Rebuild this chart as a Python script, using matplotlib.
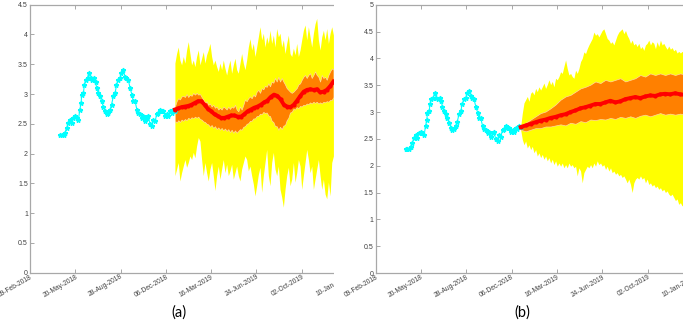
import matplotlib
matplotlib.use('Agg')
import matplotlib.pyplot as plt
import numpy as np
from matplotlib.patches import Rectangle

# x values are days counted from 09-Feb-2018 (the first tick)
tick_labels = ['09-Feb-2018', '20-May-2018', '28-Aug-2018', '06-Dec-2018',
               '16-Mar-2019', '24-Jun-2019', '02-Oct-2019', '10-Jan-2020']

# observed series (cyan), same in both panels
hist_day = [66, 70, 74, 77, 81, 85, 88, 92, 96, 99, 103, 107, 110, 113, 114, 118,
            120, 123, 127, 130, 134, 138, 141, 145, 147, 151, 155, 158, 162, 166,
            169, 173, 177, 180, 184, 188, 191, 195, 199, 202, 206, 210, 213, 217,
            221, 225, 228, 232, 236, 239, 243, 247, 250, 254, 258, 261, 265, 269,
            272, 276, 280, 283, 287, 291, 294, 298, 302, 305, 309, 313, 316, 320]
hist_val = [2.32, 2.32, 2.32, 2.35, 2.43, 2.52, 2.57, 2.52, 2.60, 2.63, 2.60, 2.57,
            2.74, 2.85, 2.99, 3.02, 3.15, 3.24, 3.27, 3.35, 3.27, 3.24, 3.27, 3.21,
            3.10, 3.02, 2.96, 2.88, 2.79, 2.71, 2.66, 2.68, 2.74, 2.82, 2.96, 3.02,
            3.15, 3.24, 3.27, 3.35, 3.40, 3.29, 3.27, 3.24, 3.10, 2.99, 2.88, 2.88,
            2.74, 2.68, 2.66, 2.60, 2.63, 2.54, 2.60, 2.63, 2.49, 2.46, 2.57, 2.54,
            2.66, 2.68, 2.74, 2.71, 2.71, 2.63, 2.66, 2.63, 2.71, 2.68, 2.74, 2.72]

# ---- panel (a) forecast ----
a_band_day = np.linspace(320, 670, 96)
a_yel_hi = [3.52, 3.68, 3.79, 3.57, 3.49, 3.63, 3.52, 3.74, 3.88, 3.68,
            3.49, 3.57, 3.46, 3.63, 3.74, 3.49, 3.60, 3.71, 3.52, 3.66,
            3.74, 3.85, 3.63, 3.49, 3.57, 3.46, 3.38, 3.52, 3.41, 3.57,
            3.43, 3.32, 3.46, 3.57, 3.35, 3.49, 3.60, 3.41, 3.35, 3.52,
            3.68, 3.52, 3.41, 3.57, 3.79, 3.93, 3.74, 3.85, 3.63, 3.79,
            3.96, 4.13, 3.91, 4.02, 3.79, 3.96, 3.85, 4.07, 3.85, 3.99,
            3.79, 4.10, 3.96, 4.02, 3.79, 3.91, 3.68, 3.85, 3.99, 3.68,
            3.63, 3.77, 3.66, 3.85, 3.63, 3.74, 3.91, 4.07, 4.16, 3.91,
            4.13, 3.96, 3.79, 4.02, 4.18, 4.27, 3.91, 3.74, 3.96, 4.07,
            3.91, 4.10, 3.85, 4.02, 4.13, 3.99]
a_yel_lo = [1.63, 1.74, 1.85, 1.54, 1.68, 1.79, 1.90, 1.77, 1.85, 1.96,
            1.90, 2.02, 1.93, 2.13, 2.27, 2.21, 1.90, 1.63, 1.85, 1.68,
            1.54, 1.74, 1.85, 1.63, 1.38, 1.63, 1.79, 1.57, 1.74, 1.90,
            1.68, 1.82, 1.63, 1.71, 1.82, 1.57, 1.68, 1.79, 1.63, 1.54,
            1.74, 1.85, 1.96, 1.90, 1.71, 1.79, 1.63, 1.49, 1.29, 1.46,
            1.65, 1.77, 1.35, 1.63, 1.85, 2.07, 1.63, 1.46, 1.85, 2.02,
            1.74, 1.63, 1.79, 1.40, 1.27, 1.10, 1.40, 1.63, 1.77, 1.46,
            1.57, 1.85, 1.52, 1.68, 1.90, 1.79, 1.40, 1.63, 1.85, 2.07,
            1.90, 1.68, 1.79, 1.40, 1.57, 1.74, 1.90, 1.63, 1.40, 1.57,
            1.32, 1.24, 1.52, 1.29, 1.85, 1.96]
a_org_hi = [2.79, 2.88, 2.93, 2.91, 2.96, 2.97, 2.95, 3.00, 2.95, 2.99,
            2.97, 3.02, 2.99, 3.02, 2.99, 3.00, 2.95, 2.91, 2.85, 2.88,
            2.82, 2.84, 2.79, 2.82, 2.77, 2.79, 2.74, 2.77, 2.74, 2.79,
            2.77, 2.74, 2.79, 2.75, 2.79, 2.77, 2.82, 2.74, 2.71, 2.79,
            2.74, 2.82, 2.91, 2.88, 2.93, 2.96, 2.93, 2.99, 2.96, 3.04,
            3.07, 3.02, 3.10, 3.08, 3.14, 3.12, 3.18, 3.13, 3.21, 3.19,
            3.27, 3.21, 3.29, 3.21, 3.27, 3.21, 3.16, 3.10, 3.07, 3.04,
            3.02, 3.04, 3.07, 3.10, 3.16, 3.18, 3.24, 3.29, 3.32, 3.27,
            3.32, 3.35, 3.27, 3.32, 3.38, 3.32, 3.29, 3.21, 3.32, 3.27,
            3.29, 3.24, 3.32, 3.38, 3.43, 3.41]
a_org_lo = [2.55, 2.52, 2.56, 2.53, 2.57, 2.55, 2.58, 2.56, 2.60, 2.58,
            2.61, 2.59, 2.62, 2.60, 2.62, 2.58, 2.57, 2.54, 2.53, 2.50,
            2.49, 2.45, 2.48, 2.43, 2.46, 2.41, 2.44, 2.40, 2.43, 2.39,
            2.42, 2.38, 2.41, 2.36, 2.40, 2.35, 2.39, 2.35, 2.38, 2.41,
            2.40, 2.45, 2.46, 2.50, 2.51, 2.55, 2.55, 2.59, 2.59, 2.63,
            2.63, 2.67, 2.66, 2.70, 2.68, 2.69, 2.64, 2.63, 2.55, 2.53,
            2.46, 2.46, 2.40, 2.45, 2.41, 2.47, 2.48, 2.56, 2.60, 2.69,
            2.70, 2.75, 2.74, 2.78, 2.76, 2.80, 2.79, 2.82, 2.81, 2.84,
            2.83, 2.86, 2.84, 2.87, 2.85, 2.87, 2.84, 2.86, 2.84, 2.87,
            2.86, 2.88, 2.87, 2.90, 2.90, 2.95]
a_red_day = np.linspace(320, 670, 49)
a_red = [2.74, 2.76, 2.78, 2.79, 2.80, 2.82, 2.85, 2.88, 2.88, 2.82, 2.75,
         2.71, 2.66, 2.63, 2.60, 2.60, 2.62, 2.64, 2.64, 2.62, 2.62,
         2.66, 2.71, 2.74, 2.77, 2.79, 2.82, 2.86, 2.89, 2.95, 2.99,
         2.97, 2.91, 2.82, 2.79, 2.78, 2.82, 2.89, 2.97, 3.04, 3.07,
         3.08, 3.07, 3.08, 3.03, 3.04, 3.07, 3.13, 3.21]

# ---- panel (b) forecast ----
b_yel_day = np.linspace(320, 680, 99)
b_yel_hi = [2.73, 2.98, 3.17, 3.23, 3.29, 3.20, 3.35, 3.38, 3.32, 3.44,
            3.38, 3.47, 3.41, 3.47, 3.54, 3.44, 3.51, 3.60, 3.51, 3.57,
            3.47, 3.63, 3.60, 3.66, 3.75, 3.72, 3.85, 3.97, 3.81, 3.69,
            3.72, 3.66, 3.63, 3.78, 3.72, 3.81, 3.94, 4.00, 4.12, 4.09,
            4.18, 4.25, 4.31, 4.37, 4.49, 4.43, 4.46, 4.40, 4.46, 4.52,
            4.55, 4.46, 4.37, 4.34, 4.28, 4.31, 4.25, 4.34, 4.43, 4.49,
            4.52, 4.55, 4.46, 4.52, 4.43, 4.37, 4.28, 4.34, 4.25, 4.28,
            4.22, 4.28, 4.18, 4.22, 4.15, 4.25, 4.28, 4.34, 4.25, 4.31,
            4.28, 4.18, 4.31, 4.22, 4.34, 4.25, 4.28, 4.22, 4.17, 4.23,
            4.17, 4.20, 4.14, 4.17, 4.10, 4.13, 4.10, 4.13, 4.10]
b_yel_lo = [2.67, 2.49, 2.39, 2.46, 2.33, 2.39, 2.30, 2.36, 2.24, 2.30,
            2.18, 2.24, 2.15, 2.21, 2.12, 2.18, 2.09, 2.15, 2.05, 2.12,
            2.02, 2.09, 1.99, 2.05, 1.99, 2.05, 1.96, 2.02, 1.96, 2.05,
            1.99, 2.02, 1.96, 1.99, 1.81, 1.96, 1.90, 1.68, 1.87, 1.93,
            1.99, 1.96, 2.02, 1.96, 2.05, 1.99, 2.09, 2.02, 2.05, 1.99,
            2.02, 1.93, 1.99, 1.90, 1.96, 1.87, 1.90, 1.84, 1.87, 1.81,
            1.84, 1.78, 1.81, 1.75, 1.68, 1.75, 1.65, 1.50, 1.68, 1.75,
            1.78, 1.75, 1.81, 1.75, 1.78, 1.68, 1.75, 1.65, 1.68, 1.62,
            1.65, 1.59, 1.62, 1.56, 1.59, 1.53, 1.56, 1.50, 1.53, 1.47,
            1.44, 1.47, 1.41, 1.35, 1.38, 1.28, 1.31, 1.25, 1.28]
b_band_day = np.linspace(320, 683, 34)
b_org_hi = [2.73, 2.80, 2.86, 2.92, 2.98, 3.01, 3.07, 3.14, 3.23, 3.29,
            3.32, 3.38, 3.44, 3.47, 3.51, 3.57, 3.54, 3.60, 3.57, 3.60,
            3.63, 3.57, 3.60, 3.63, 3.69, 3.66, 3.72, 3.69, 3.72, 3.69,
            3.72, 3.69, 3.72, 3.70]
b_org_lo = [2.67, 2.64, 2.67, 2.70, 2.70, 2.73, 2.73, 2.75, 2.77, 2.75,
            2.80, 2.78, 2.83, 2.81, 2.86, 2.85, 2.87, 2.86, 2.89, 2.87,
            2.91, 2.89, 2.92, 2.89, 2.93, 2.95, 2.92, 2.95, 2.98, 2.95,
            2.97, 2.95, 2.97, 2.95]
b_red = [2.72, 2.75, 2.78, 2.81, 2.84, 2.86, 2.89, 2.91, 2.94, 2.96,
         3.00, 3.03, 3.07, 3.09, 3.12, 3.15, 3.15, 3.18, 3.21, 3.18,
         3.20, 3.24, 3.26, 3.28, 3.26, 3.29, 3.31, 3.30, 3.33, 3.34,
         3.33, 3.35, 3.33, 3.32]

W, H = 683, 326
fig = plt.figure(figsize=(W / 100, H / 100), dpi=100)

# axes rectangles (pixels): left, bottom, width, height
ax_a = fig.add_axes([30 / W, 53.3 / H, 317 / W, 268 / H], zorder=0)
ax_b = fig.add_axes([375.7 / W, 53 / H, 317.1 / W, 268.3 / H], zorder=2)

gray = '#a8a8a8'


def panel(ax, ymax, yel_day, yel_hi, yel_lo, org_day, org_hi, org_lo, red_day, red_val):
    ax.fill_between(yel_day, yel_lo, yel_hi, color='#ffff00', lw=0, zorder=1)
    ax.fill_between(org_day, org_lo, org_hi, facecolor='#ff8000',
                    edgecolor='#ffd9a0', lw=0.5, zorder=2)
    ax.plot(hist_day, hist_val, color='#00ffff', lw=0.8, marker='*', ms=3.4, zorder=3)
    ax.plot(red_day, red_val, color='#ff0000', lw=2.8, marker='.', ms=4, zorder=4)

    ax.set_xlim(0, 700)
    ax.set_ylim(0, ymax)
    ax.set_xticks(np.arange(0, 701, 100))
    ax.set_xticklabels(tick_labels)
    yt = np.arange(0, ymax + 0.01, 0.5)
    ax.set_yticks(yt)
    ax.set_yticklabels([f'{v:g}' for v in yt])
    ax.tick_params(direction='in', length=3, width=0.7, colors=gray,
                   labelcolor='#404040', labelsize=5, top=True, right=True)
    ax.tick_params(axis='x', pad=0.5, labelsize=4.8)
    ax.tick_params(axis='y', pad=1.5)
    plt.setp(ax.get_xticklabels(), rotation=30, ha='right', va='top',
             rotation_mode='anchor', family='Liberation Sans')
    plt.setp(ax.get_yticklabels(), family='Liberation Sans')
    for s in ax.spines.values():
        s.set_color(gray)
        s.set_linewidth(0.9)


panel(ax_a, 4.5, a_band_day, a_yel_hi, a_yel_lo, a_band_day, a_org_hi, a_org_lo, a_red_day, a_red)
panel(ax_b, 5, b_yel_day, b_yel_hi, b_yel_lo, b_band_day, b_org_hi, b_org_lo, b_band_day, b_red)

# the left picture is cropped on its right side
fig.add_artist(Rectangle((333.5 / W, 0), (365 - 333.5) / W, 1, transform=fig.transFigure,
                         facecolor='white', edgecolor='none', zorder=1))

fig.text(179 / W, 13.5 / H, '(a)', ha='center', va='center', fontsize=10.5, family='Lato')
fig.text(522 / W, 13.5 / H, '(b)', ha='center', va='center', fontsize=10.5, family='Lato')

fig.savefig('out.png', dpi=100)
